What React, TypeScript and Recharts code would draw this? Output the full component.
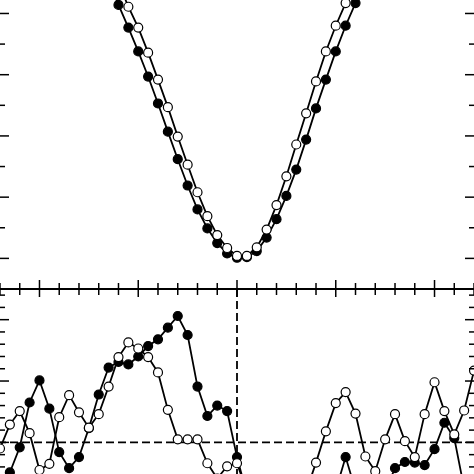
import React from 'react'
import { LineChart, Line, XAxis, YAxis, ReferenceLine } from 'recharts'

// step index along the horizontal axis
const topSteps = [-13, -12, -11, -10, -9, -8, -7, -6, -5, -4, -3, -2, -1, 0, 1, 2, 3, 4, 5, 6, 7, 8, 9, 10, 11, 12, 13]
const topFilled = [4.55, 4.14, 3.77, 3.38, 2.97, 2.53, 2.07, 1.62, 1.19, 0.8, 0.49, 0.25, 0.08, 0.01, 0.02, 0.12, 0.34, 0.64, 1.02, 1.45, 1.94, 2.45, 2.92, 3.38, 3.8, 4.17, 4.56]
const topOpen = [4.92, 4.5, 4.11, 3.77, 3.36, 2.92, 2.47, 1.99, 1.53, 1.08, 0.69, 0.38, 0.17, 0.04, 0.04, 0.18, 0.47, 0.87, 1.34, 1.86, 2.37, 2.89, 3.38, 3.8, 4.17, 4.55, 4.95]

const bottomSteps = [
  -24, -23, -22, -21, -20, -19, -18, -17, -16, -15, -14, -13, -12, -11, -10, -9, -8, -7, -6, -5, -4, -3, -2, -1, 0,
  1, 2, 3, 4, 5, 6, 7, 8, 9, 10, 11, 12, 13, 14, 15, 16, 17, 18, 19, 20, 21, 22, 23, 24,
]
const bottomFilled = [
  -0.95, -0.49, -0.08, 0.65, 1.01, 0.55, -0.16, -0.42, -0.24, 0.23, 0.78, 1.22, 1.31, 1.27, 1.4, 1.57, 1.68, 1.87, 2.06, 1.75, 0.91, 0.43, 0.6, 0.51, -0.24,
  -0.85, -1.0, -0.9, -1.05, -0.95, -1.0, -0.9, -0.85, -0.95, -0.78, -0.24, -0.78, -0.95, -1.0, -0.8, -0.42, -0.32, -0.33, -0.37, -0.11, 0.32, 0.07, -0.75, -0.9,
]
const bottomOpen = [
  -0.1, 0.29, 0.51, 0.15, -0.45, -0.35, 0.41, 0.77, 0.49, 0.24, 0.46, 0.91, 1.39, 1.63, 1.53, 1.39, 1.14, 0.53, 0.05, 0.05, 0.05, -0.34, -0.59, -0.39, -0.34,
  -0.8, -0.95, -1.0, -0.9, -1.05, -0.95, -0.8, -0.33, 0.18, 0.64, 0.82, 0.47, -0.23, -0.47, 0.05, 0.46, 0.02, -0.24, 0.46, 0.98, 0.51, 0.13, 0.52, 1.17,
]

const xTicks = [-24, -22, -20, -18, -16, -14, -12, -10, -8, -6, -4, -2, 0, 2, 4, 6, 8, 10, 12, 14, 16, 18, 20, 22, 24]
const topYTicks = [0, 0.5, 1, 1.5, 2, 2.5, 3, 3.5, 4, 4.5, 5]
const bottomYTicks = [-1.2, -1, -0.8, -0.6, -0.4, -0.2, 0, 0.2, 0.4, 0.6, 0.8, 1, 1.2, 1.4, 1.6, 1.8, 2, 2.2, 2.4]

const topData = topSteps.map((k, i) => ({ k, filled: topFilled[i], open: topOpen[i] }))
const bottomData = bottomSteps.map((k, i) => ({ k, filled: bottomFilled[i], open: bottomOpen[i] }))

const isWhole = (v: number) => Math.abs(v - Math.round(v)) < 1e-6
const isTen = (v: number) => Math.abs(v % 10) < 1e-6

// inward pointing tick marks, longer on major values
const makeTick = (side: 'left' | 'right' | 'top' | 'bottom', major: (v: number) => boolean, big: number, small: number) =>
  (props: any) => {
    const { x, y, payload } = props
    const len = major(payload.value) ? big : small
    let x2 = x
    let y2 = y
    if (side === 'left') x2 = x + len
    else if (side === 'right') x2 = x - len
    else if (side === 'top') y2 = y + len
    else y2 = y - len
    return <line x1={x} y1={y} x2={x2} y2={y2} stroke="#000" strokeWidth={1.5} />
  }

const W = 478
const X_DOMAIN: [number, number] = [-24.2, 24.2]
const axisLine = { stroke: '#000', strokeWidth: 1.8 }
const filledDot = { r: 4.5, fill: '#000', stroke: '#000', strokeWidth: 1.2 }
const openDot = { r: 4.5, fill: '#fff', stroke: '#000', strokeWidth: 1.2 }
const LW = 1.8

export default function App() {
  return (
    <div style={{ position: 'absolute', left: -2, top: 0, width: W, height: 474, background: '#fff' }}>
      <div style={{ position: 'absolute', left: 0, top: -60 }}>
        <LineChart width={W} height={351} data={topData} margin={{ top: 0, right: 0, bottom: 2, left: 0 }}>
          <XAxis
            dataKey="k"
            type="number"
            domain={X_DOMAIN}
            ticks={xTicks}
            interval={0}
            orientation="bottom"
            mirror
            tickSize={0}
            tickMargin={0}
            tickLine={false}
            axisLine={axisLine}
            tick={makeTick('bottom', isTen, 9, 6)}
            allowDataOverflow
          />
          <YAxis
            type="number"
            domain={[-0.5, 5.2]}
            ticks={topYTicks}
            interval={0}
            mirror
            tickSize={0}
            tickMargin={0}
            tickLine={false}
            axisLine={axisLine}
            tick={makeTick('left', isWhole, 11, 7)}
            allowDataOverflow
          />
          <YAxis
            yAxisId="r"
            orientation="right"
            type="number"
            domain={[-0.5, 5.2]}
            ticks={topYTicks}
            interval={0}
            mirror
            tickSize={0}
            tickMargin={0}
            tickLine={false}
            axisLine={axisLine}
            tick={makeTick('right', isWhole, 11, 7)}
            allowDataOverflow
          />
          <Line type="linear" dataKey="filled" stroke="#000" strokeWidth={LW} dot={filledDot} isAnimationActive={false} />
          <Line type="linear" dataKey="open" stroke="#000" strokeWidth={LW} dot={openDot} isAnimationActive={false} />
        </LineChart>
      </div>
      <div style={{ position: 'absolute', left: 0, top: 287 }}>
        <LineChart width={W} height={229} data={bottomData} margin={{ top: 2, right: 0, bottom: 0, left: 0 }}>
          <XAxis
            dataKey="k"
            type="number"
            domain={X_DOMAIN}
            ticks={xTicks}
            interval={0}
            orientation="top"
            mirror
            tickSize={0}
            tickMargin={0}
            tickLine={false}
            axisLine={axisLine}
            tick={makeTick('top', isTen, 8, 6)}
            allowDataOverflow
          />
          <YAxis
            type="number"
            domain={[-1.2, 2.5]}
            ticks={bottomYTicks}
            interval={0}
            mirror
            tickSize={0}
            tickMargin={0}
            tickLine={false}
            axisLine={axisLine}
            tick={makeTick('left', isWhole, 11, 7)}
            allowDataOverflow
          />
          <YAxis
            yAxisId="r"
            orientation="right"
            type="number"
            domain={[-1.2, 2.5]}
            ticks={bottomYTicks}
            interval={0}
            mirror
            tickSize={0}
            tickMargin={0}
            tickLine={false}
            axisLine={axisLine}
            tick={makeTick('right', isWhole, 11, 7)}
            allowDataOverflow
          />
          <ReferenceLine y={0} stroke="#000" strokeWidth={1.8} strokeDasharray="8 4" />
          <ReferenceLine x={0} stroke="#000" strokeWidth={1.8} strokeDasharray="8 4" />
          <Line type="linear" dataKey="filled" stroke="#000" strokeWidth={LW} dot={filledDot} isAnimationActive={false} />
          <Line type="linear" dataKey="open" stroke="#000" strokeWidth={LW} dot={openDot} isAnimationActive={false} />
        </LineChart>
      </div>
    </div>
  )
}
